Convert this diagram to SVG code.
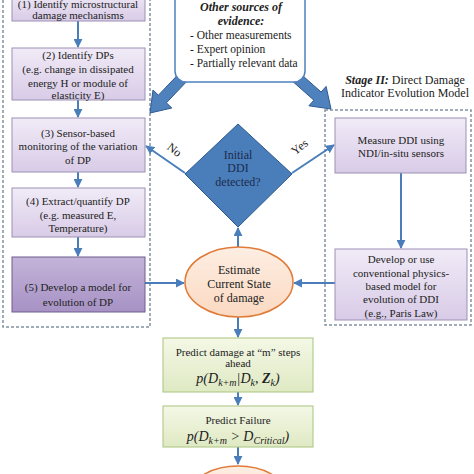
<svg xmlns="http://www.w3.org/2000/svg" width="474" height="474" viewBox="0 0 474 474">
<defs>
<linearGradient id="gPurple" x1="0" y1="0" x2="0" y2="1"><stop offset="0" stop-color="#f1ebf7"/><stop offset="1" stop-color="#d8cbe7"/></linearGradient>
<linearGradient id="gPurpleDark" x1="0" y1="0" x2="0" y2="1"><stop offset="0" stop-color="#c3b3d9"/><stop offset="1" stop-color="#a792c4"/></linearGradient>
<linearGradient id="gGreen" x1="0" y1="0" x2="0" y2="1"><stop offset="0" stop-color="#f4f8e6"/><stop offset="1" stop-color="#dfe9c3"/></linearGradient>
<linearGradient id="gPeach" x1="0" y1="0" x2="0" y2="1"><stop offset="0" stop-color="#fdeee3"/><stop offset="1" stop-color="#fbd9c1"/></linearGradient>
<marker id="ah" viewBox="0 0 10 10" refX="9" refY="5" markerWidth="4.5" markerHeight="4.5" orient="auto-start-reverse"><path d="M0,0 L10,5 L0,10 z" fill="#4a7ebb"/></marker>
<style>
.t{font-family:"Liberation Serif","Times New Roman",serif;font-size:11px;fill:#222;text-anchor:middle}
.tl{font-family:"Liberation Serif","Times New Roman",serif;font-size:11.5px;fill:#222}
.m{font-family:"Liberation Serif","Times New Roman",serif;font-size:14px;font-style:italic;fill:#222;text-anchor:middle}
.box{fill:url(#gPurple);stroke:#9d90b5;stroke-width:1}
.box5{fill:url(#gPurpleDark);stroke:#6e5d8e;stroke-width:1}
.gbox{fill:url(#gGreen);stroke:#aac47e;stroke-width:1}
.dash{fill:none;stroke:#8391a3;stroke-width:1.5;stroke-dasharray:3,2}
.c{stroke:#4a7ebb;stroke-width:2;fill:none;marker-end:url(#ah)}
.big{fill:#4f81bd;stroke:#2f5a8f;stroke-width:1}
</style>
</defs>
<rect width="474" height="474" fill="#fff"/>

<!-- dashed stage boxes -->
<rect class="dash" x="3" y="-5" width="147" height="332"/>
<rect class="dash" x="325" y="110" width="146" height="215"/>

<!-- block arrows -->
<g id="blockArrows">
<polygon class="big" points="194,73.8 166.4,102.8 171.8,108 150,113 153,90 158.4,95.2 186,66.2"/>
<polygon class="big" points="284.4,74.1 313.9,100.2 308.9,105.8 331,109 326.1,86.4 321.1,92 291.6,65.9"/>
</g>

<g id="connectors">
<line class="c" x1="78" y1="21" x2="78" y2="47"/>
<line class="c" x1="78" y1="100" x2="78" y2="117"/>
<line class="c" x1="78" y1="172" x2="78" y2="187"/>
<line class="c" x1="78" y1="237" x2="78" y2="256"/>
<line class="c" x1="145" y1="283" x2="184" y2="283"/>
<line class="c" x1="335" y1="283" x2="294" y2="283"/>
<line class="c" x1="401" y1="173" x2="401" y2="248"/>
<line class="c" x1="238" y1="247" x2="238" y2="228"/>
<line class="c" x1="185" y1="173" x2="146" y2="146"/>
<line class="c" x1="292" y1="173" x2="334" y2="145"/>
<line class="c" x1="238" y1="317" x2="238" y2="337"/>
<line class="c" x1="238" y1="392" x2="238" y2="405"/>
<line class="c" x1="238" y1="447" x2="238" y2="464"/>
<text class="t" transform="translate(172,153) rotate(38)" style="font-size:12px">No</text>
<text class="t" transform="translate(302,150) rotate(-38)" style="font-size:12px">Yes</text>
</g>

<g id="other">
<rect x="175" y="-12" width="130" height="94" rx="11" fill="#fff" stroke="#4f81bd" stroke-width="1.5"/>
<text class="t" x="241" y="11" style="font-size:12px;font-weight:bold;font-style:italic">Other sources of</text>
<text class="t" x="241" y="25" style="font-size:12px;font-weight:bold;font-style:italic">evidence:</text>
<text class="tl" x="190" y="39">- Other measurements</text>
<text class="tl" x="190" y="53">- Expert opinion</text>
<text class="tl" x="190" y="67">- Partially relevant data</text>
</g>

<g id="n1"><rect class="box" x="12" y="-10" width="133" height="31"/>
<text class="t" x="78" y="8">(1) Identify microstructural</text>
<text class="t" x="78" y="19">damage mechanisms</text></g>

<g id="n2"><rect class="box" x="12" y="48" width="133" height="52"/>
<text class="t" x="78" y="59">(2) Identify DPs</text>
<text class="t" x="78" y="73">(e.g. change in dissipated</text>
<text class="t" x="78" y="87">energy H or module of</text>
<text class="t" x="78" y="99">elasticity  E)</text></g>

<g id="n3"><rect class="box" x="12" y="118" width="133" height="54"/>
<text class="t" x="78" y="137">(3) Sensor-based</text>
<text class="t" x="78" y="150">monitoring of the variation</text>
<text class="t" x="78" y="164">of DP</text></g>

<g id="n4"><rect class="box" x="12" y="188" width="133" height="49"/>
<text class="t" x="78" y="205">(4) Extract/quantify DP</text>
<text class="t" x="78" y="219">(e.g. measured E,</text>
<text class="t" x="78" y="232">Temperature)</text></g>

<g id="n5"><rect class="box5" x="12" y="257" width="133" height="55"/>
<text class="t" x="78" y="291">(5) Develop a model for</text>
<text class="t" x="78" y="306">evolution of DP</text></g>

<g id="stage2">
<text class="t" x="405" y="84" style="font-size:12px"><tspan font-weight="bold" font-style="italic">Stage II:</tspan> Direct Damage</text>
<text class="t" x="405" y="97" style="font-size:12px">Indicator Evolution Model</text>
</g>

<g id="measure"><rect class="box" x="335" y="118" width="131" height="55"/>
<text class="t" x="401" y="144">Measure DDI using</text>
<text class="t" x="401" y="157">NDI/in-situ sensors</text></g>

<g id="develop"><rect class="box" x="335" y="249" width="132" height="71"/>
<text class="t" x="401" y="263">Develop or use</text>
<text class="t" x="401" y="277">conventional physics-</text>
<text class="t" x="401" y="290">based model for</text>
<text class="t" x="401" y="303">evolution of DDI</text>
<text class="t" x="401" y="317">(e.g., Paris Law)</text></g>

<g id="diamond"><polygon points="238,124 292,174 238,227 185,174" fill="#4a7ebb" stroke="#2f5a8f" stroke-width="1"/>
<text class="t" x="238" y="159" style="font-size:12px;fill:#1c2b4a">Initial</text>
<text class="t" x="238" y="172" style="font-size:12px;fill:#1c2b4a">DDI</text>
<text class="t" x="238" y="186" style="font-size:12px;fill:#1c2b4a">detected?</text></g>

<g id="estimate"><ellipse cx="239" cy="282" rx="54" ry="35" fill="url(#gPeach)" stroke="#e07b39" stroke-width="1.5"/>
<text class="t" x="239" y="274" style="font-size:12px">Estimate</text>
<text class="t" x="239" y="288" style="font-size:12px">Current State</text>
<text class="t" x="239" y="302" style="font-size:12px">of damage</text></g>

<g id="predict"><rect class="gbox" x="163" y="338" width="150" height="54"/>
<text class="t" x="238" y="356">Predict damage at “m” steps</text>
<text class="t" x="238" y="367">ahead</text>
<text class="m" x="238" y="383">p(D<tspan font-size="10" dy="3">k+m</tspan><tspan dy="-3">|D</tspan><tspan font-size="10" dy="3">k</tspan><tspan dy="-3">, </tspan><tspan font-weight="bold">Z</tspan><tspan font-size="10" dy="3">k</tspan><tspan dy="-3">)</tspan></text></g>

<g id="failure"><rect class="gbox" x="163" y="406" width="150" height="41"/>
<text class="t" x="238" y="424">Predict Failure</text>
<text class="m" x="238" y="441">p(D<tspan font-size="10" dy="3">k+m</tspan><tspan dy="-3"> &gt; D</tspan><tspan font-size="10" dy="3">Critical</tspan><tspan dy="-3">)</tspan></text></g>

<g id="endnode"><ellipse cx="238" cy="492" rx="46" ry="26" fill="url(#gPeach)" stroke="#e07b39" stroke-width="1.5"/></g>
</svg>
